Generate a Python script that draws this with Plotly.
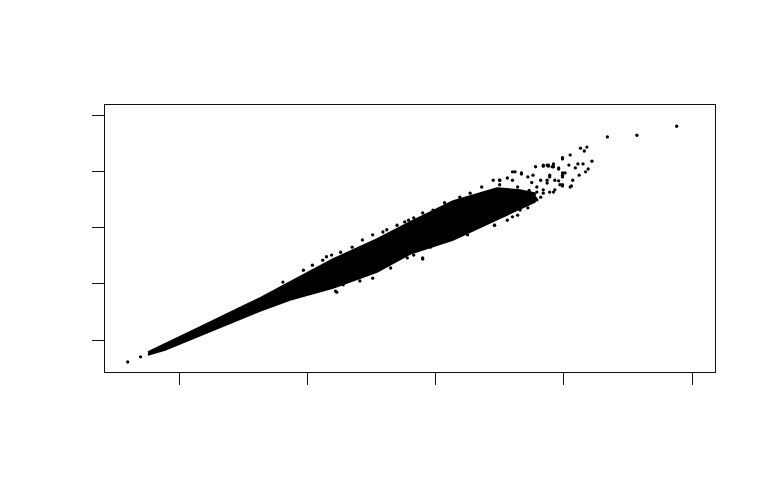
import plotly.graph_objects as go

# dense core of the cloud, outline (upper edge, then lower edge back)
core_x = [0.758, 0.891, 1.008, 1.164, 1.421, 1.632, 1.865, 2.201, 2.544, 2.801, 3.136,
          3.480, 3.659, 3.776,
          3.776, 3.659, 3.480, 3.136, 2.801, 2.544, 2.201, 1.865, 1.632, 1.421,
          1.164, 1.008, 0.891, 0.758]
core_y = [0.787, 0.929, 1.053, 1.231, 1.516, 1.747, 2.031, 2.440, 2.796, 3.098, 3.471,
          3.702, 3.667, 3.613,
          3.453, 3.329, 3.133, 2.778, 2.529, 2.209, 1.924, 1.711, 1.516, 1.320,
          1.071, 0.929, 0.822, 0.733]

# single points that stand out of the core
pts_x = [0.60, 0.70,
         4.88, 4.57, 4.34, 4.18, 4.13, 4.16, 4.05, 3.99, 4.22, 4.11, 4.15, 4.04, 3.84,
         3.88, 3.92, 3.78, 4.09, 4.19, 4.17, 3.96, 3.99, 4.01, 4.12, 3.60, 3.67, 4.07,
         3.96, 4.06, 3.92, 3.99, 3.87, 3.89, 3.45, 3.50, 3.79, 3.82, 3.74, 3.93, 4.05,
         3.99, 3.99, 3.87, 3.91, 3.62, 3.67, 3.50, 3.36, 3.27, 3.19, 3.07, 2.98, 2.90,
         2.83, 2.76,
         2.90, 2.83, 3.25, 3.46, 3.66, 3.79, 3.84,
         2.79, 2.70, 2.62, 2.51, 2.43, 2.35, 2.26, 2.19, 2.12, 2.04, 1.97,
         2.51, 2.41, 2.28, 2.22, 2.65, 2.78, 2.23, 2.90, 2.31, 2.59, 2.15, 1.81,
         3.31, 3.21, 3.06, 2.96, 3.64,
         3.72, 3.76, 3.84, 3.88, 3.92, 3.96, 3.99, 3.89, 3.82, 3.87, 3.93, 3.79,
         3.84, 3.89, 3.74, 3.78, 3.68, 3.72, 3.97, 3.99, 3.60, 3.56, 3.50, 3.64,
         3.66, 3.60, 3.56, 3.46, 3.70, 3.73, 3.75, 3.58]
pts_y = [0.61, 0.70,
         4.80, 4.64, 4.61, 4.43, 4.41, 4.36, 4.29, 4.22, 4.18, 4.13, 4.13, 4.11, 4.11,
         4.09, 4.13, 4.08, 4.06, 4.04, 3.99, 4.04, 3.93, 3.97, 3.93, 3.99, 3.97, 3.84,
         3.83, 3.74, 3.63, 3.74, 3.84, 3.90, 3.84, 3.84, 3.63, 3.54, 3.54, 3.67, 3.72,
         3.76, 4.24, 4.11, 4.08, 3.99, 3.95, 3.84, 3.72, 3.61, 3.54, 3.44, 3.31, 3.26,
         3.17, 3.10,
         2.46, 2.51, 2.87, 3.04, 3.36, 3.49, 3.61,
         3.13, 3.04, 2.96, 2.87, 2.78, 2.65, 2.56, 2.51, 2.42, 2.33, 2.24,
         2.10, 2.05, 1.98, 1.87, 2.28, 2.46, 1.85, 2.44, 2.07, 2.92, 2.48, 2.03,
         3.01, 2.90, 2.78, 2.65, 3.22,
         3.90, 3.93, 4.09, 4.11, 4.08, 4.06, 3.97, 3.93, 3.84, 3.79, 3.84, 3.72,
         3.67, 3.63, 3.61, 3.52, 3.44, 3.35, 3.76, 3.90, 3.84, 3.88, 3.76, 3.72,
         3.31, 3.19, 3.13, 3.04, 3.58, 3.66, 3.80, 3.47]

fig = go.Figure()
fig.add_trace(go.Scatter(x=core_x, y=core_y, mode="lines", fill="toself",
                         fillcolor="black", line=dict(color="black", width=1.5),
                         hoverinfo="skip"))
fig.add_trace(go.Scatter(x=pts_x, y=pts_y, mode="markers",
                         marker=dict(color="black", size=3.3, line=dict(width=0))))

axis = dict(showgrid=False, zeroline=False, showline=True, mirror=True,
            linecolor="#111111", linewidth=1.3, ticks="outside", ticklen=12,
            tickwidth=1.2, tickcolor="#111111", tickvals=[1, 2, 3, 4, 5],
            showticklabels=False)
fig.update_xaxes(range=[0.423, 5.179], **axis)
fig.update_yaxes(range=[0.431, 5.178], **axis)
# page body adds 8px on the left and top, so margins are set 8px smaller there
fig.update_layout(width=768, height=504, showlegend=False,
                  plot_bgcolor="white", paper_bgcolor="white",
                  margin=dict(l=97, r=61, t=97, b=140))
fig.write_html("out.html")
